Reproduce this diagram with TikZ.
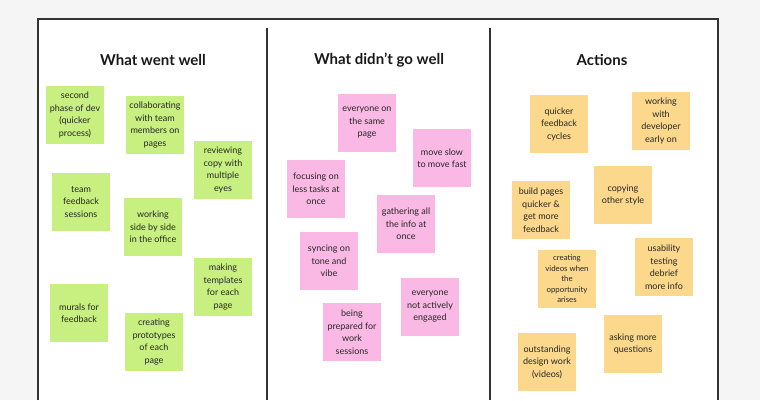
\documentclass[tikz,border=0pt]{standalone}
\usepackage{fontspec}
\setmainfont{Lato}
\begin{document}
\begin{tikzpicture}[x=1pt,y=-1pt,
  note/.style={minimum width=58pt,minimum height=58pt,inner sep=1pt,align=center,font=\fontsize{9}{12.5}\selectfont,text=black!85},
  gn/.style={note,fill={rgb,255:red,200;green,240;blue,128}},
  pk/.style={note,fill={rgb,255:red,250;green,185;blue,228}},
  og/.style={note,fill={rgb,255:red,252;green,216;blue,140}},
  ttl/.style={font=\bfseries\fontsize{15}{18}\selectfont,text=black!90},
  frame/.style={draw=black!80,line width=1.3pt}]
\fill[black!4] (0,0) rectangle (760,400);
\fill[white] (38,19) rectangle (718,400);
\coordinate (tl) at (38,19); \coordinate (tr) at (718,19);
\coordinate (bl) at (38,400); \coordinate (br) at (718,400);
\draw[frame] (bl) -- (tl) -- (tr) -- (br);
\coordinate (d1t) at (267,28); \coordinate (d1b) at (267,400);
\coordinate (d2t) at (490,28); \coordinate (d2b) at (490,400);
\draw[frame] (d1t) -- (d1b); \draw[frame] (d2t) -- (d2b);
\node[ttl] (t1) at (153,60) {What went well};
\node[ttl] (t2) at (379,60) {What didn't go well};
\node[ttl] (t3) at (602,60) {Actions};
\node[gn] (g1) at (75,115) {second\\phase of dev\\(quicker\\process)};
\node[gn] (g2) at (155,125) {collaborating\\with team\\members on\\pages};
\node[gn] (g3) at (223,170) {reviewing\\copy with\\multiple\\eyes};
\node[gn] (g4) at (81,202) {team\\feedback\\sessions};
\node[gn] (g5) at (153,227) {working\\side by side\\in the office};
\node[gn] (g6) at (223,287) {making\\templates\\for each\\page};
\node[gn] (g7) at (79,313) {murals for\\feedback};
\node[gn] (g8) at (154,342) {creating\\prototypes\\of each\\page};
\node[pk] (p1) at (367,123) {everyone on\\the same\\page};
\node[pk] (p2) at (442,158) {move slow\\to move fast};
\node[pk] (p3) at (316,189) {focusing on\\less tasks at\\once};
\node[pk] (p4) at (406,224) {gathering all\\the info at\\once};
\node[pk] (p5) at (329,261) {syncing on\\tone and\\vibe};
\node[pk] (p6) at (430,307) {everyone\\not actively\\engaged};
\node[pk] (p7) at (352,332) {being\\prepared for\\work\\sessions};
\node[og] (o1) at (559,124) {quicker\\feedback\\cycles};
\node[og] (o2) at (661,121) {working\\with\\developer\\early on};
\node[og] (o3) at (623,195) {copying\\other style};
\node[og] (o4) at (541,210) {build pages\\quicker \&\\get more\\feedback};
\node[og,font=\fontsize{7.8}{10.5}\selectfont] (o5) at (567,279) {creating\\videos when\\the\\opportunity\\arises};
\node[og] (o6) at (664,267) {usability\\testing\\debrief\\more info};
\node[og] (o7) at (633,344) {asking more\\questions};
\node[og] (o8) at (547,362) {outstanding\\design work\\(videos)};
\end{tikzpicture}
\end{document}
